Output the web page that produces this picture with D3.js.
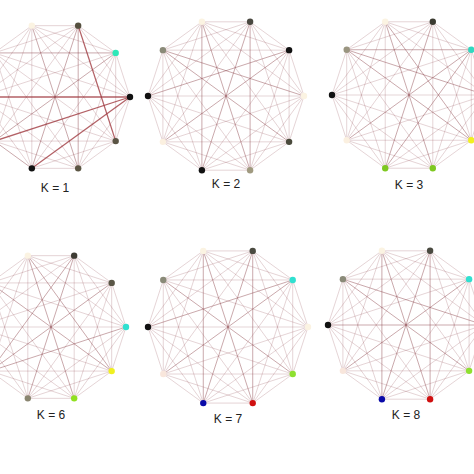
<!DOCTYPE html>
<html><head><meta charset="utf-8">
<script src="https://cdn.jsdelivr.net/npm/d3@7"></script>
<style>body{margin:0;background:#fff}</style></head>
<body><svg id="c" width="474" height="474"></svg>
<script>
// Panels: label, node colours (node 0 = right, then clockwise)
const labels = ["K = 1","K = 2","K = 3","K = 6","K = 7","K = 8"];
const nodeColors = [
 ["#111","#5a5444","#5c5644","#111","#f6ecd8","#111","#8a8572","#fbf3e2","#55503f","#2ee8b8"],
 ["#fbf3e2","#4a4a3c","#a09a80","#111","#fbf0e0","#111","#8a8a78","#fbf3e2","#4a4840","#111"],
 ["#f5eccc","#f2f020","#7ec820","#7ec820","#fbf0e0","#111","#9a9580","#fbf3e2","#3a3a30","#30d8c0"],
 ["#30e0d0","#f0f020","#90e020","#8a8570","#fbf0e0","#111","#9a9580","#fbf3e2","#3e3c34","#5a5646"],
 ["#fbf3e2","#8ee030","#d01010","#0a0aa8","#f8e6dc","#111","#8a8a78","#fbf3e2","#4a4a40","#30e0d0"],
 ["#fbf3e2","#8ee030","#d01010","#0a0aa8","#f8e6dc","#111","#8a8a78","#fbf3e2","#4a4a40","#30e0d0"]
];
// strong edges and medium edges per panel
const strongEdges = [
 [[5,0],[3,0],[4,0],[8,1]],
 [],
 [],
 [],
 [],
 []
];
const mediumEdges = [
 [[2,8],[9,4],[7,2],[6,9],[3,8],[4,3]],
 [[6,0],[7,2],[8,3],[9,4],[5,9],[6,1],[7,3],[8,2],[4,9]],
 [[6,9],[6,1],[7,2],[8,3],[9,4],[6,0],[7,1],[3,9]],
 [[7,2],[8,3],[9,4],[6,1],[0,4],[8,4],[7,1]],
 [[7,2],[8,3],[7,3],[8,2],[6,1],[9,4],[5,9]],
 [[5,0],[7,2],[8,3],[6,1],[9,4],[7,3],[8,2],[6,0],[4,9]]
];
const centers = [[55,97,75],[226,96,78],[409,95,77],[51,327,75],[228,327,80],[406,325,78]];
const labelY = [192,188,189,419,423,419];

const svg = d3.select("#c");
const angle = d3.scaleLinear().domain([0,10]).range([0,2*Math.PI]);
labels.forEach((lab,p)=>{
  const [cx,cy,r] = centers[p];
  const g = svg.append("g").attr("transform",`translate(${cx},${cy})`);
  const pts = d3.range(10).map(i=>[r*Math.cos(angle(i)), r*Math.sin(angle(i))]);
  const key = (a,b)=>Math.min(a,b)+"-"+Math.max(a,b);
  const strong = new Set(strongEdges[p].map(e=>key(...e)));
  const med = new Set(mediumEdges[p].map(e=>key(...e)));
  const edges=[];
  for(let i=0;i<10;i++)for(let j=i+1;j<10;j++)edges.push([i,j]);
  g.selectAll("line").data(edges).join("line")
    .attr("x1",d=>pts[d[0]][0]).attr("y1",d=>pts[d[0]][1])
    .attr("x2",d=>pts[d[1]][0]).attr("y2",d=>pts[d[1]][1])
    .attr("stroke",d=>strong.has(key(...d))?"#a03a40":"#8a4048")
    .attr("stroke-opacity",d=>strong.has(key(...d))?0.8:med.has(key(...d))?0.5:0.25)
    .attr("stroke-width",d=>strong.has(key(...d))?1.3:0.9);
  g.selectAll("circle").data(pts).join("circle")
    .attr("cx",d=>d[0]).attr("cy",d=>d[1]).attr("r",3.2)
    .attr("fill",(d,i)=>nodeColors[p][i]);
  svg.append("text").attr("x",cx).attr("y",labelY[p]).attr("text-anchor","middle")
    .attr("font-family","Liberation Sans, Arial").attr("font-size",12).attr("fill","#222").text(lab);
});
</script></body></html>
